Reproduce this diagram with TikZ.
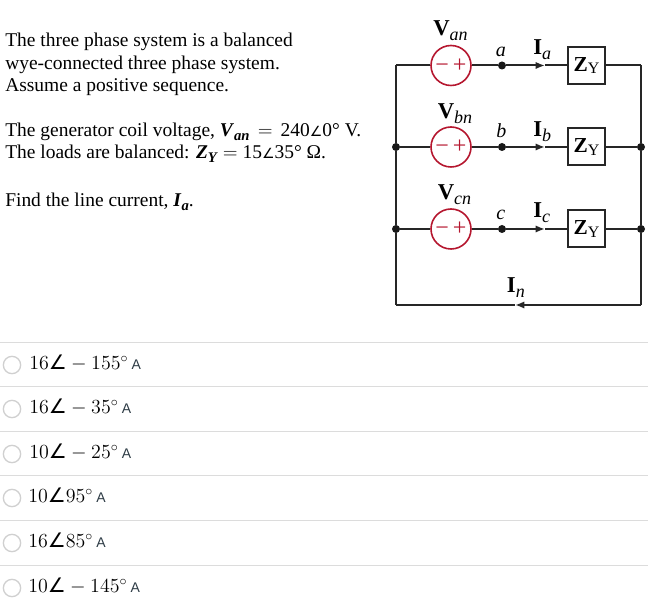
\documentclass[tikz,border=0pt]{standalone}
\usepackage{fix-cm}
\usepackage{amsmath}
\usepackage{fontspec}
\setmainfont{Liberation Serif}
\newfontfamily\ansfont{Liberation Sans}
\newfontfamily\angfont{DejaVu Sans}
\usetikzlibrary{arrows.meta}
\definecolor{srcred}{HTML}{B5172F}
\definecolor{rulegray}{HTML}{DCDCDC}
\definecolor{radiogray}{HTML}{D0D0D0}
\definecolor{ansgray}{HTML}{2D3B45}
\tikzstyle{wire} = [line width=1.5pt, black!85]
\tikzstyle{para} = [anchor=base west, inner sep=0pt, font=\fontsize{14.6}{14.6}\selectfont]
\tikzstyle{src} = [circle, draw=srcred, line width=1.2pt, minimum size=30pt, inner sep=0pt, text=srcred, font=\fontsize{18}{18}\selectfont]
\tikzstyle{load} = [draw=black!85, line width=1.5pt, minimum width=27.75pt, minimum height=27.75pt, inner sep=0pt]
\tikzstyle{dot} = [circle, fill=black!90, inner sep=0pt, minimum size=6pt]
\tikzstyle{lbl} = [anchor=base west, inner sep=0pt, font=\fontsize{17}{17}\selectfont]
\tikzstyle{term} = [anchor=base west, inner sep=0pt, font=\fontsize{15}{15}\selectfont\itshape]
\tikzstyle{ans} = [anchor=base west, inner sep=0pt, font=\fontsize{15}{15}\selectfont]
\tikzstyle{radio} = [circle, draw=radiogray, line width=1pt, minimum size=13pt, inner sep=0pt]
\newcommand{\boldvar}[2]{\textbf{\textit{#1}}\raisebox{-2.5pt}{\fontsize{11}{11}\selectfont\textbf{\textit{#2}}}}
\newcommand{\cirvar}[2]{\textbf{#1}\raisebox{-3.5pt}{\fontsize{13.5}{13.5}\selectfont\textit{#2}}}
\newcommand{\zlabel}{{\fontsize{16}{16}\selectfont\textbf{Z}}\raisebox{-2pt}{\fontsize{12}{12}\selectfont Y}}
\newcommand{\paraang}{{\angfont\fontsize{10.5}{10.5}\selectfont ∠}}
\newcommand{\ansang}{\mathord{\hbox{\angfont\fontsize{15}{15}\selectfont ∠}}}
\begin{document}
\begin{tikzpicture}[x=0.75pt, y=-0.75pt]
\useasboundingbox (0,0) rectangle (654,609);

% question text
\node[para] (line1) at (5,47) {The three phase system is a balanced};
\node[para] (line2) at (5,70) {wye-connected three phase system.};
\node[para] (line3) at (5,92) {Assume a positive sequence.};
\node[para] (line4) at (5,137) {The generator coil voltage, \boldvar{V}{an} \,$=$\, 240\paraang0° V.};
\node[para] (line5) at (5,159) {The loads are balanced: \boldvar{Z}{Y} $=$ 15\paraang35° Ω.};
\node[para] (line6) at (5,207) {Find the line current, \boldvar{I}{a}.};

% circuit
\coordinate (topl) at (396,65.5);
\coordinate (topr) at (641,65.5);
\coordinate (botl) at (396,305);
\coordinate (botr) at (641,305);
\coordinate (inarrow) at (515,305);
\foreach \ph/\ypos in {a/65.5,b/147,c/229} {
	\node[src] (src\ph) at (451,\ypos) {\raisebox{-0.6pt}{\textminus\,+}};
	\node[dot] (term\ph) at (502,\ypos) {};
	\coordinate (tip\ph) at (545,\ypos);
	\node[load] (load\ph) at (586.5,\ypos) {\zlabel};
}
\node[dot] (nodelb) at (396,147) {};
\node[dot] (nodelc) at (396,229) {};
\node[dot] (noderb) at (641,147) {};
\node[dot] (noderc) at (641,229) {};

\draw[wire] (topl) -- (srca);
\draw[wire] (nodelb) -- (srcb);
\draw[wire] (nodelc) -- (srcc);
\foreach \ph in {a,b,c} {
	\draw[wire] (src\ph) -- (term\ph);
	\draw[wire, -{Latex[length=7pt,width=5.5pt]}] (term\ph) -- (tip\ph);
	\draw[wire] (tip\ph) -- (load\ph);
}
\draw[wire] (loada) -- (topr);
\draw[wire] (loadb) -- (noderb);
\draw[wire] (loadc) -- (noderc);
\draw[wire] (topl) -- (nodelb) -- (nodelc) -- (botl);
\draw[wire] (botr) -- (noderc) -- (noderb) -- (topr);
\draw[wire, -{Latex[length=7pt,width=5.5pt]}] (botr) -- (inarrow);
\draw[wire] (inarrow) -- (botl);

\node[lbl] (vanlbl) at (433,36) {\cirvar{V}{an}};
\node[lbl] (vbnlbl) at (437.5,118.5) {\cirvar{V}{bn}};
\node[lbl] (vcnlbl) at (437.5,200) {\cirvar{V}{cn}};
\node[term] (alb) at (495.5,56.7) {a};
\node[term] (blb) at (496,138) {b};
\node[term] (clb) at (496,220) {c};
\node[lbl] (ialb) at (533,55) {\cirvar{I}{a}};
\node[lbl] (iblb) at (533,136.7) {\cirvar{I}{b}};
\node[lbl] (iclb) at (533,218) {\cirvar{I}{c}};
\node[lbl] (inlb) at (506.7,293) {\cirvar{I}{n}};

% answers
\foreach \ypos in {342.5,386.5,431.5,475.5,520.5,565.5} {
	\draw[rulegray, line width=0.75pt] (0,\ypos) -- (648,\ypos);
}
\foreach \nm/\xpos/\ypos/\val in {r1/29/370/{16\ansang-155^\circ},r2/29/414/{16\ansang-35^\circ},r3/29/459/{10\ansang-25^\circ},r4/28/503/{10\ansang95^\circ},r5/28/548/{16\ansang85^\circ},r6/28/593/{10\ansang-145^\circ}} {
	\node[radio] (\nm) at (12,\ypos-5) {};
	\node[ans] (ans\nm) at (\xpos,\ypos) {$\val$\,{\ansfont\fontsize{10.5}{10.5}\selectfont\color{ansgray}A}};
}
\end{tikzpicture}
\end{document}
